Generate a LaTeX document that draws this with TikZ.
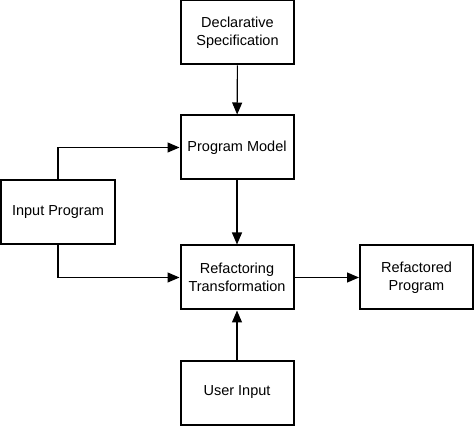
\documentclass[tikz,border=0pt]{standalone}
\usepackage{fontspec}
\setmainfont{Liberation Sans}
\usetikzlibrary{arrows.meta}
\begin{document}
\begin{tikzpicture}[x=1pt,y=1pt,
  box/.style={draw=black,line width=2pt,minimum width=113pt,minimum height=64pt,inner sep=0pt,align=center,font=\fontsize{14.5}{18}\selectfont,fill=white},
  arr/.style={draw=black,line width=1.1pt,-{Triangle[length=12pt,width=10pt]}}]
\useasboundingbox (0,0) rectangle (474,426);
\node[box] (decl) at (237.5,393.5) {Declarative\\Specification};
\node[box] (pm) at (237,278.5) {Program Model};
\node[box,minimum width=114pt] (ip) at (58,213.5) {Input Program};
\node[box] (rt) at (237,148.5) {Refactoring\\Transformation};
\node[box] (rp) at (416.5,148.5) {Refactored\\Program};
\node[box] (ui) at (237,33.5) {User Input};
\draw[arr] (decl) -- (pm);
\draw[arr] (pm) -- (rt);
\draw[arr] (ui) -- (rt);
\draw[arr] (rt) -- (rp);
\draw[arr] (ip.north) |- (pm.west);
\draw[arr] (ip.south) |- (rt.west);
\end{tikzpicture}
\end{document}
